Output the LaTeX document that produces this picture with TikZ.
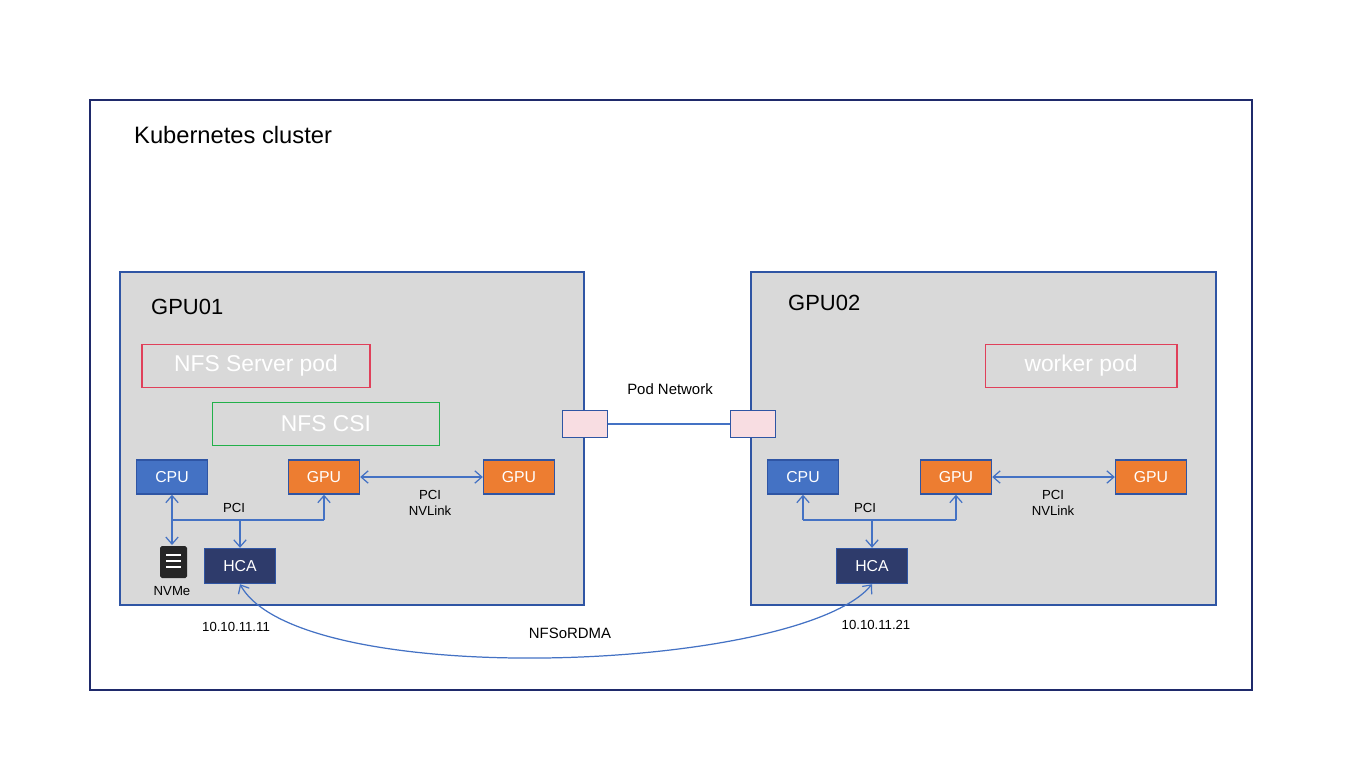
\documentclass[tikz,border=0pt]{standalone}
\usepackage{fontspec}
\setmainfont{Liberation Sans}
\usetikzlibrary{arrows.meta}
\definecolor{navy}{HTML}{1F2A6B}
\definecolor{hostblue}{HTML}{2F55A4}
\definecolor{cpublue}{HTML}{4472C4}
\definecolor{gpuorange}{HTML}{ED7D31}
\definecolor{hcablue}{HTML}{2E3B6B}
\definecolor{linkblue}{HTML}{4472C4}
\definecolor{podred}{HTML}{E0405A}
\definecolor{csigreen}{HTML}{22B04A}
\definecolor{portpink}{HTML}{F8DDE2}
\begin{document}
\begin{tikzpicture}[
    x=0.02cm, y=-0.02cm,
    host/.style={draw=hostblue, fill=gray!30, line width=0.8pt},
    chip/.style={rectangle, draw=hostblue, line width=0.8pt, minimum width=1.42cm, minimum height=0.68cm, text=white, font=\fontsize{9}{10}\selectfont},
    pod/.style={rectangle, draw=podred, line width=0.6pt, minimum height=0.86cm, text=white, font=\fontsize{13}{14}\selectfont},
    port/.style={rectangle, draw=hostblue, fill=portpink, line width=0.6pt, minimum width=0.9cm, minimum height=0.54cm},
    lbl/.style={font=\fontsize{7.5}{9}\selectfont, align=center},
    link/.style={draw=linkblue, line width=0.7pt},
    arr/.style={link, {Straight Barb[length=4pt,width=7pt]}-{Straight Barb[length=4pt,width=7pt]}},
    tip/.style={link, -{Straight Barb[length=4pt,width=7pt]}}
]
\useasboundingbox (0,0) rectangle (1358,764);

% cluster and hosts
\draw[navy, line width=0.8pt] (90,100) rectangle (1252,690);
\node[anchor=west, font=\fontsize{13.5}{15}\selectfont] (title) at (128,135) {Kubernetes cluster};
\draw[host] (120,272) rectangle (584,605);
\draw[host] (751,272) rectangle (1216,605);
\node[anchor=west, font=\fontsize{12.5}{14}\selectfont] (name1) at (145,307) {GPU01};
\node[anchor=west, font=\fontsize{12.5}{14}\selectfont] (name2) at (782,303) {GPU02};

% pods
\node[pod, minimum width=4.56cm] (nfssrv) at (256,366) {NFS Server pod};
\node[pod, draw=csigreen, minimum width=4.54cm] (csi) at (326,424) {NFS CSI};
\node[pod, minimum width=3.84cm] (worker) at (1081,366) {worker pod};

% pod network
\node[port] (port1) at (585,424) {};
\node[port] (port2) at (753,424) {};
\draw[link] (port1) -- (port2);
\node[lbl, font=\fontsize{8.5}{10}\selectfont] (podnet) at (670,389) {Pod Network};

% GPU01 devices
\node[chip, fill=cpublue] (cpu1) at (172,477) {CPU};
\node[chip, fill=gpuorange] (gpu1a) at (324,477) {GPU};
\node[chip, fill=gpuorange] (gpu1b) at (519,477) {GPU};
\node[chip, fill=hcablue, minimum height=0.7cm] (hca1) at (240,566) {HCA};
\fill[black!85, rounded corners=1pt] (160,546) rectangle (187,578);
\foreach \yy in {555,561,567} \draw[white, line width=0.8pt] (166,\yy) -- (181,\yy);
\node[inner sep=0] (nvme) at (173.5,562) {};
\node[lbl] (nvmelbl) at (172,591) {NVMe};
\coordinate (j1) at (172,520);
\coordinate (k1) at (240,520);
\draw[tip] (j1) -- (cpu1.south);
\draw[link] (j1) -- (324,520);
\draw[tip] (324,520) -- (gpu1a.south);
\draw[tip] (j1) -- (172,545);
\draw[tip] (k1) -- (hca1.north);
\node[lbl] (pci1) at (234,508) {PCI};
\draw[arr] (gpu1a) -- (gpu1b);
\node[lbl] (nvl1) at (430,503) {PCI\\NVLink};

% GPU02 devices
\node[chip, fill=cpublue] (cpu2) at (803,477) {CPU};
\node[chip, fill=gpuorange] (gpu2a) at (956,477) {GPU};
\node[chip, fill=gpuorange] (gpu2b) at (1151,477) {GPU};
\node[chip, fill=hcablue, minimum height=0.7cm] (hca2) at (872,566) {HCA};
\coordinate (j2) at (803,520);
\coordinate (k2) at (872,520);
\draw[tip] (j2) -- (cpu2.south);
\draw[link] (j2) -- (956,520);
\draw[tip] (956,520) -- (gpu2a.south);
\draw[tip] (k2) -- (hca2.north);
\node[lbl] (pci2) at (865,508) {PCI};
\draw[arr] (gpu2a) -- (gpu2b);
\node[lbl] (nvl2) at (1053,503) {PCI\\NVLink};

% RDMA path
\draw[arr] (hca1.south) .. controls (300,692) and (800,672) .. (hca2.south);
\node[lbl, font=\fontsize{8.5}{10}\selectfont] (rdma) at (570,633) {NFSoRDMA};
\node[lbl] (ip1) at (236,627) {10.10.11.11};
\node[lbl] (ip2) at (876,625) {10.10.11.21};
\end{tikzpicture}
\end{document}
